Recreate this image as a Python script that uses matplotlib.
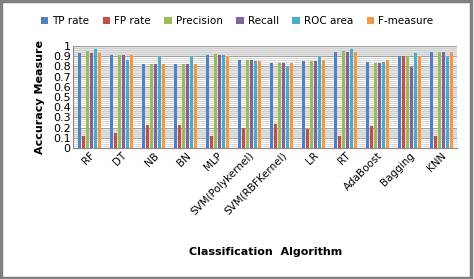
import numpy as np
import matplotlib.pyplot as plt
from matplotlib.patches import Rectangle

algorithms = ['RF', 'DT', 'NB', 'BN', 'MLP', 'SVM(Polykernel)', 'SVM(RBFKernel)',
              'LR', 'RT', 'AdaBoost', 'Bagging', 'KNN']
metrics = ['TP rate', 'FP rate', 'Precision', 'Recall', 'ROC area', 'F-measure']

tp_rate = [0.93, 0.91, 0.82, 0.82, 0.91, 0.86, 0.83, 0.85, 0.94, 0.84, 0.90, 0.94]
fp_rate = [0.12, 0.15, 0.22, 0.22, 0.12, 0.20, 0.23, 0.19, 0.12, 0.21, 0.90, 0.12]
precision = [0.95, 0.91, 0.82, 0.82, 0.92, 0.86, 0.83, 0.85, 0.95, 0.83, 0.90, 0.94]
recall = [0.93, 0.91, 0.82, 0.82, 0.91, 0.86, 0.83, 0.85, 0.94, 0.83, 0.79, 0.94]
roc_area = [0.97, 0.86, 0.89, 0.89, 0.91, 0.85, 0.79, 0.89, 0.97, 0.84, 0.93, 0.89]
f_measure = [0.93, 0.91, 0.82, 0.82, 0.90, 0.85, 0.83, 0.86, 0.94, 0.86, 0.90, 0.94]

series = [tp_rate, fp_rate, precision, recall, roc_area, f_measure]
colors = ['#4F81BD', '#C0504D', '#9BBB59', '#8064A2', '#4BACC6', '#F79646']

fig = plt.figure(figsize=(4.74, 2.79), dpi=100)
ax = fig.add_axes([0.155, 0.47, 0.81, 0.365])

x = np.arange(len(algorithms))
step = 0.125
width = 0.1
for i, (vals, c, lab) in enumerate(zip(series, colors, metrics)):
    ax.bar(x + (i - 2.5) * step, vals, width, color=c, label=lab, zorder=3)

# striped background like the excel pattern fill
for k in range(0, 10, 2):
    ax.axhspan(k / 10 + 0.1, k / 10 + 0.2, color='#E4E4E4', zorder=0, lw=0)
ax.set_yticks(np.arange(0, 1.01, 0.02), minor=True)
ax.grid(axis='y', which='minor', color='#C8C8C8', lw=0.5, zorder=1)
ax.grid(axis='y', which='major', color='#A0A0A0', lw=0.7, zorder=1)
ax.tick_params(axis='y', which='minor', length=0)

ax.set_ylim(0, 1)
ax.set_xlim(-0.5, len(algorithms) - 0.5)
ax.set_yticks(np.arange(0, 1.01, 0.1))
ax.set_yticklabels(['0', '0.1', '0.2', '0.3', '0.4', '0.5', '0.6', '0.7', '0.8', '0.9', '1'], fontsize=8)
ax.set_xticks(x)
ax.set_xticklabels(algorithms, rotation=45, ha='right', rotation_mode='anchor', fontsize=7.5)
ax.tick_params(axis='both', length=0, pad=2)
for s in ['top', 'right']:
    ax.spines[s].set_visible(False)
ax.spines['left'].set_color('#888888')
ax.spines['bottom'].set_color('#888888')

ax.set_ylabel('Accuracy Measure', fontsize=8, fontweight='bold', labelpad=6)
fig.text(0.56, 0.085, 'Classification  Algorithm', fontsize=8, fontweight='bold', ha='center')

fig.legend(loc='upper center', bbox_to_anchor=(0.5, 0.975), ncol=6, fontsize=7.5,
           frameon=False, handlelength=0.7, handleheight=0.7, handletextpad=0.4,
           columnspacing=1.3)

fig.patches.append(Rectangle((0.003, 0.005), 0.99, 0.99, transform=fig.transFigure,
                             fill=False, edgecolor='#808080', lw=2.5))

fig.savefig('out.png', dpi=100)
